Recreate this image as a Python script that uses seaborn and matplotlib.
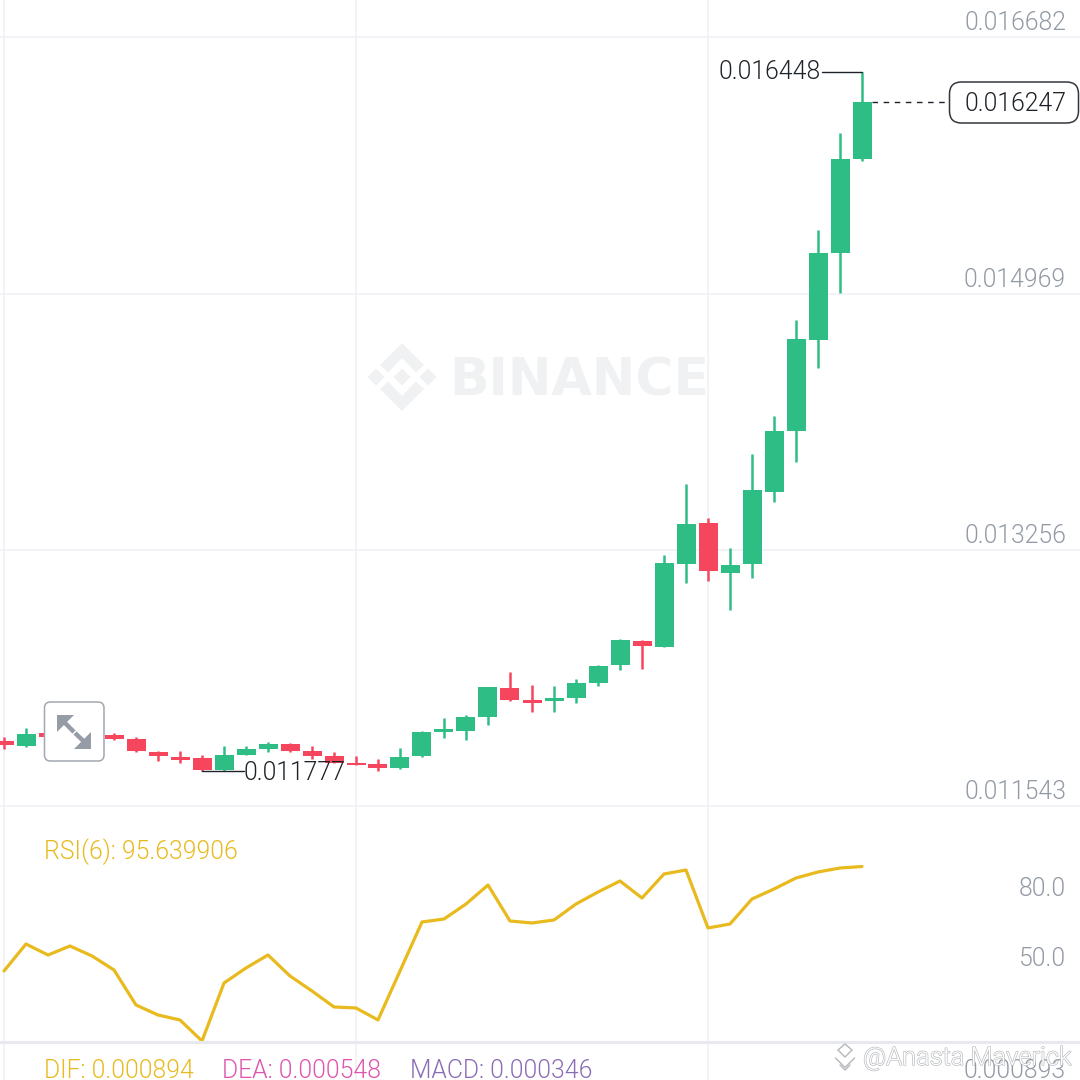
import numpy as np
import pandas as pd
import seaborn as sns
import matplotlib
matplotlib.use("Agg")
import matplotlib.pyplot as plt
from matplotlib.patches import FancyBboxPatch, Polygon, Rectangle
import matplotlib.patheffects as pe

# prices in millionths
opens = [11981,11948,12035,12013,12033,12019,11993,11908,11872,11868,11784,11888,11924,11957,11910,11879,11834,11826,11799,11877,
         12037,12048,12138,12335,12251,12247,12269,12369,12487,12649,12609,13164,13436,13104,13164,13643,14050,14658,15242,15870]
closes = [11951,12026,12004,12039,12006,11991,11910,11881,11854,11786,11886,11926,11957,11914,11877,11834,11817,11801,11872,12037,
          12059,12140,12340,12253,12233,12267,12365,12478,12652,12612,13170,13431,13113,13157,13658,14050,14665,15238,15868,16247]
highs = [12004,12066,12039,12053,12046,12033,12004,11914,11912,11886,11948,11946,11971,11966,11946,11904,11877,11861,11930,12044,
         12131,12151,12342,12438,12351,12347,12395,12487,12661,12652,13222,13696,13469,13267,13897,14151,14792,15393,16043,16448]
lows = [11924,11941,11999,12006,11999,11989,11909,11848,11830,11777,11782,11886,11904,11906,11861,11832,11816,11781,11792,11874,
        12001,11984,12086,12244,12171,12171,12235,12349,12456,12462,12609,13033,13050,12856,13070,13578,13843,14471,14974,15852]
rsi = [50.86,62.43,57.71,61.57,57.29,51.29,36.29,32.0,29.86,20.86,45.71,52.14,57.71,48.71,42.29,35.43,35.0,29.86,50.86,71.86,
       73.14,79.57,87.71,72.29,71.43,72.71,79.57,84.71,89.43,82.14,92.43,94.14,69.29,71.0,81.71,86.0,90.71,93.29,95.0,95.64]
price_ticks = [16682, 14969, 13256, 11543]
rsi_ticks = [80.0, 50.0]
time_ticks = [0, 16, 32]
last_price = 16247
top_price = 16448
bottom_price = 11777
macd_labels = ["DIF: 0.000894", "DEA: 0.000548", "MACD: 0.000346"]
macd_axis_label = "0.000893"
rsi_label = "RSI(6): 95.639906"

df = pd.DataFrame({"i": range(len(opens)), "open": opens, "close": closes, "high": highs, "low": lows, "rsi": rsi})
for c in ["open", "close", "high", "low"]:
    df[c] = df[c] / 1e6

sns.set_theme(style="white")
plt.rcParams["font.family"] = ["Roboto", "DejaVu Sans"]
plt.rcParams["font.weight"] = 300

GREEN, RED, YEL = "#2EBD85", "#F6465D", "#E8BA1E"
GRID, GREY, INK = "#EEF0F5", "#929AA5", "#1E2329"
FS = 17.8
W = H = 1080
fig = plt.figure(figsize=(10.8, 10.8), dpi=100, facecolor="white")


def px_axes(top, bottom, z):
    a = fig.add_axes([0, 1 - bottom / H, 1, (bottom - top) / H], zorder=z)
    a.patch.set_alpha(0)
    for s in a.spines.values():
        s.set_visible(False)
    return a


XLIM = (-4 / 22, (W - 4) / 22)

# watermark layer, under the candles
wm = fig.add_axes([0, 0, 1, 1], zorder=0)
wm.set_xlim(0, W); wm.set_ylim(H, 0); wm.axis("off")
LOGO = "#F0F1F2"
for cx, cy in [(402, 377), (376, 377), (428, 377)]:
    wm.add_patch(Polygon([(cx - 8.5, cy), (cx, cy - 8.5), (cx + 8.5, cy), (cx, cy + 8.5)], color=LOGO, lw=0))
for sign in (1, -1):
    wm.add_patch(Polygon([(402, 377 - sign * 34), (424, 377 - sign * 12), (416, 377 - sign * 4.5), (402, 377 - sign * 19),
                          (388, 377 - sign * 4.5), (380, 377 - sign * 12)], color=LOGO, lw=0))
t = wm.text(449, 396, "BINANCE", fontsize=37.5, fontweight="bold", family="DejaVu Sans", color=LOGO, va="baseline", ha="left")
t.set_clip_path(Rectangle((440, 330), 269, 90, transform=wm.transData))

# price pane
ax = px_axes(0, 807, 1)
P0, PX = 0.011543, 6.681e-6
ax.set_xlim(*XLIM)
ax.set_ylim(P0 + (806.3 - 807) * PX, P0 + 806.3 * PX)
ax.set_xticks([]); ax.set_yticks([])
for v in price_ticks:
    ax.axhline(v / 1e6, color=GRID, lw=1.1, zorder=1)
    ax.annotate(f"{v / 1e6:.6f}", xy=(1, v / 1e6), xycoords=("axes fraction", "data"), xytext=(-14 * .72, 14 * .72),
                textcoords="offset points", ha="right", va="center", fontsize=FS, color=GREY, annotation_clip=False)
for i in time_ticks:
    ax.axvline(i, color=GRID, lw=1.1, zorder=1)
cols = [GREEN if c >= o else RED for o, c in zip(df.open, df.close)]
ax.vlines(df.i, df.low, df.high, colors=cols, lw=1.8, zorder=3)
ax.bar(df.i, (df.close - df.open).abs(), bottom=df[["open", "close"]].min(axis=1), width=19 / 22, color=cols, lw=0, zorder=3)

# extreme and last-price markers
hi_i, lo_i = int(np.argmax(highs)), int(np.argmin(lows))
ax.plot([hi_i - 40 / 22, hi_i], [top_price / 1e6] * 2, color=INK, lw=1.0, zorder=4)
ax.annotate(f"{top_price / 1e6:.6f}", xy=(hi_i - 41 / 22, top_price / 1e6), ha="right", va="center",
            fontsize=FS, color=INK, zorder=6)
ax.plot([lo_i, lo_i + 42 / 22], [bottom_price / 1e6] * 2, color=INK, lw=1.0, zorder=4)
ax.annotate(f"{bottom_price / 1e6:.6f}", xy=(lo_i + 42 / 22, bottom_price / 1e6), xytext=(-0.7, -2.0 * .72),
            textcoords="offset points", ha="left", va="center", fontsize=FS, color=INK, zorder=6)
ax.plot([len(opens) - 1 + 10 / 22, len(opens) - 1 + 87 / 22], [last_price / 1e6] * 2, color=INK, lw=1.0,
        dashes=(4, 4), zorder=4)

# RSI pane
ax2 = px_axes(807, 1042, 1)
ax2.set_xlim(*XLIM)
ax2.set_ylim(80 - (1042 - 903) / 2.333, 80 + (903 - 807) / 2.333)
for i in time_ticks:
    ax2.axvline(i, color=GRID, lw=1.1, zorder=1)
sns.lineplot(data=df, x="i", y="rsi", ax=ax2, color=YEL, lw=2.3, zorder=3, legend=False)
ax2.set_xlabel(""); ax2.set_ylabel(""); ax2.set_xticks([]); ax2.set_yticks([])
for v in rsi_ticks:
    ax2.annotate(f"{v:.1f}", xy=(1, v), xycoords=("axes fraction", "data"), xytext=(-14 * .72, 14 * .72),
                 textcoords="offset points", ha="right", va="center", fontsize=FS, color=GREY)
ax2.text(44 / W, 1 - 45 / 235, rsi_label, transform=ax2.transAxes, color=YEL, fontsize=FS, va="center", ha="left")

# MACD strip
ax3 = px_axes(1042, 1080, 1)
ax3.set_xlim(*XLIM); ax3.set_ylim(0, 1)
ax3.set_xticks([]); ax3.set_yticks([])
for i in time_ticks:
    ax3.axvline(i, color=GRID, lw=1.1, zorder=1)
for x, s, c in zip([44, 222, 410], macd_labels, [YEL, "#DD55AE", "#8A6DB5"]):
    ax3.text(x / W, 9 / 38, s, transform=ax3.transAxes, color=c, fontsize=FS, va="center", ha="left")
ax3.text(1066 / W, 9 / 38, macd_axis_label, transform=ax3.transAxes, color=GREY, fontsize=FS, va="center", ha="right")

# overlay: pane divider, expand button, last-price pill, attribution
ov = fig.add_axes([0, 0, 1, 1], zorder=5)
ov.set_xlim(0, W); ov.set_ylim(H, 0); ov.axis("off")
ov.plot([0, W], [1042, 1042], color="#E8E9F0", lw=2.2, zorder=1)
ov.add_patch(FancyBboxPatch((44.5, 702), 59.5, 59, boxstyle="round,pad=0,rounding_size=6", fc="white", ec="#A3A8B0", lw=1.1, zorder=2))
BTN = "#969CA6"
ov.add_patch(Polygon([(57, 715), (74, 715), (57, 732)], color=BTN, lw=0, zorder=3))
ov.plot([62, 74], [720, 732], color=BTN, lw=3.2, zorder=3, solid_capstyle="butt")
ov.add_patch(Polygon([(91, 732), (91, 748.5), (74, 748.5)], color=BTN, lw=0, zorder=3))
ov.plot([75, 86], [733, 743.5], color=BTN, lw=3.2, zorder=3, solid_capstyle="butt")
ov.add_patch(FancyBboxPatch((949.5, 82), 129, 41, boxstyle="round,pad=0,rounding_size=12", fc="white", ec="#33373D", lw=1.1, zorder=2))
ov.text(1015, 104, f"{last_price / 1e6:.6f}", ha="center", va="center", fontsize=FS, color=INK, zorder=3)

mark = ov.text(863, 1058, "@Anasta Maverick", fontsize=18.3, color="white", va="center", ha="left", zorder=4)
mark.set_path_effects([pe.withStroke(linewidth=0.9, foreground="#B4B7BB")])
for dy, half in [(-6, 7), (2, 9.5), (9, 5)]:
    ov.plot([845 - half, 845, 845 + half], [1056 + dy, 1056 + dy + half, 1056 + dy], color="#B5B8BC", lw=1.0, zorder=4)
ov.plot([838, 845, 852], [1050, 1044, 1050], color="#B5B8BC", lw=1.0, zorder=4)

fig.savefig("out.png", dpi=100, facecolor="white")
